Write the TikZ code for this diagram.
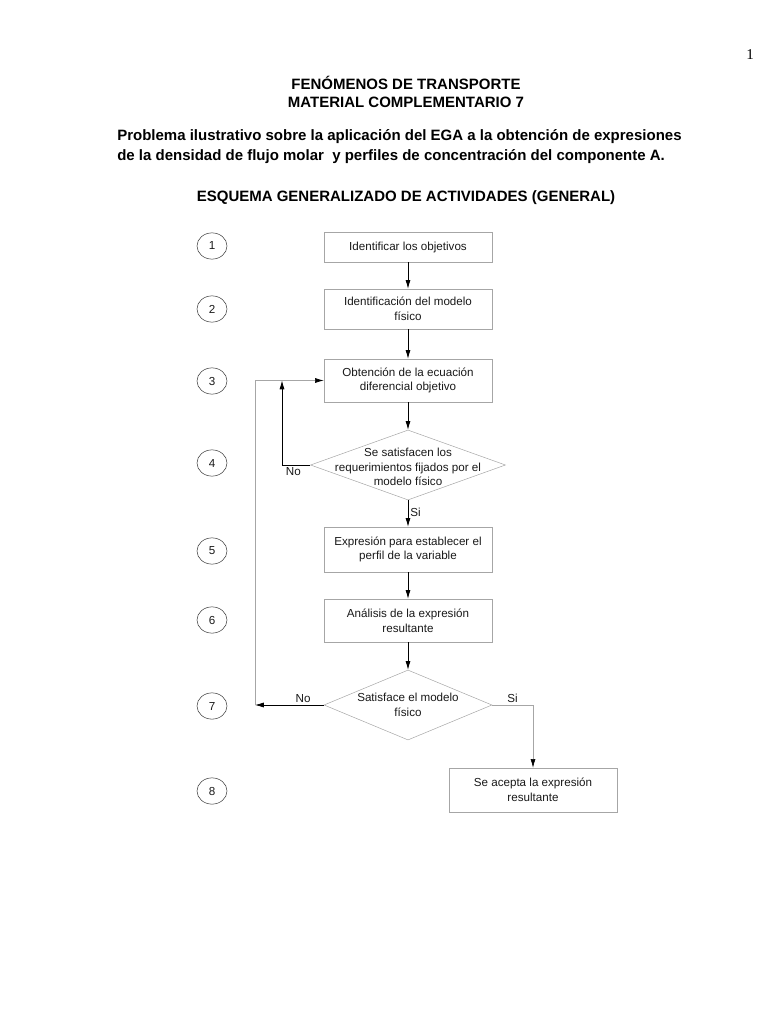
\documentclass[tikz,border=0pt]{standalone}
\usepackage{fontspec}
\setmainfont{Liberation Sans}
\newfontfamily\pagefont{Liberation Serif}
\usepackage{tikz}
\usetikzlibrary{arrows.meta}
\usetikzlibrary{shapes.geometric}

\begin{document}
\begin{tikzpicture}[x=0.8pt, y=-0.8pt]
\useasboundingbox (0,0) rectangle (768,1024);
%\draw[red] (0,0) rectangle (768,1024);
\begin{scope}[every node/.style={font=\bfseries\fontsize{12}{14}\selectfont, inner sep=0pt}]
    \node[font=\pagefont\fontsize{12}{14}\selectfont] (pg) at (750,55) {1};
    \node (T1) at (406,83) {FENÓMENOS DE TRANSPORTE};
    \node (T2) at (406,102) {MATERIAL COMPLEMENTARIO 7};
    \node[anchor=west] (P1) at (117,137) {Problema ilustrativo sobre la aplicación del EGA a la obtención de expresiones};
    \node[anchor=west] (P2) at (117,157) {de la densidad de flujo molar \ y perfiles de concentración del componente A.};
    \node (T3) at (406,198) {ESQUEMA GENERALIZADO DE ACTIVIDADES (GENERAL)};
\end{scope}

\begin{scope}[every node/.style={font=\fontsize{9.3}{11.8}\selectfont, text=black!90, align=center, inner sep=0pt},
              box/.style={draw=gray!70, minimum width=134.4pt},
              choice/.style={diamond, draw=gray!70, minimum height=56pt},
              stepnum/.style={ellipse, draw=black!80, minimum width=24pt, minimum height=21pt}]
    \node[box, minimum height=24pt] (B1) at (408,247) {Identificar los objetivos};
    \node[box, minimum height=32pt] (B2) at (408,309) {Identificación del modelo\\físico};
    \node[box, minimum height=34.4pt] (B3) at (408,380.5) {Obtención de la ecuación\\diferencial objetivo};
    \node[choice, minimum width=156pt] (D1) at (408,465) {};
    \node (D1t) at (408,467) {Se satisfacen los\\requerimientos fijados por el\\modelo físico};
    \node[box, minimum height=36pt] (B5) at (408,549.5) {Expresión para establecer el\\perfil de la variable};
    \node[box, minimum height=34.4pt] (B6) at (408,620.5) {Análisis de la expresión\\resultante};
    \node[choice, minimum width=134.4pt] (D2) at (408,705) {};
    \node (D2t) at (408,705) {Satisface el modelo\\físico};
    \node[box, minimum height=35.2pt] (B8) at (533,790) {Se acepta la expresión\\resultante};

    \node[stepnum] (S1) at (212,246) {1};
    \node[stepnum] (S2) at (212,309) {2};
    \node[stepnum] (S3) at (212,381) {3};
    \node[stepnum] (S4) at (212,463) {4};
    \node[stepnum] (S5) at (212,551) {5};
    \node[stepnum] (S6) at (212,620) {6};
    \node[stepnum] (S7) at (212,706) {7};
    \node[stepnum] (S8) at (212,791) {8};

    \coordinate (J3) at (282,380.5);
    \coordinate (C3) at (255,380.5);
    \coordinate (C7) at (255,705);
\end{scope}

\begin{scope}[>={Latex[black, length=7pt, width=4pt]},
              every node/.style={font=\fontsize{9.3}{11}\selectfont, text=black!90, inner sep=1.5pt},
              every edge/.style={draw=black, line width=0.6pt}]
    \path [->] (B1) edge (B2);
    \path [->] (B2) edge (B3);
    \path [->] (B3) edge (D1);
    \path [->] (D1) edge node[right, pos=0.45] {Si} (B5);
    \path [->] (B5) edge (B6);
    \path [->] (B6) edge (D2);
    \draw [->, line width=0.6pt] (D1.west) -| node[below, pos=0.3] {No} (J3);
    \draw [->, line width=0.6pt] (D2.west) -- node[above, pos=0.3] {No} (C7);
    \draw [->, draw=gray!70, line width=0.5pt] (C7) -- (C3) -- (B3.west);
    \draw [->, draw=gray!70, line width=0.5pt] (D2.east) -| node[above, pos=0.25] {Si} (B8.north);
\end{scope}
\end{tikzpicture}
\end{document}
